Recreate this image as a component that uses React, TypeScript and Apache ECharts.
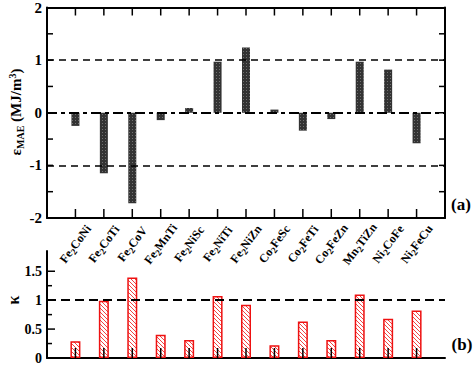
import React, { useEffect, useRef } from 'react';
import * as echarts from 'echarts';

const categories = [
  'Fe2CoNi', 'Fe2CoTi', 'Fe2CoV', 'Fe2MnTi', 'Fe2NiSc', 'Fe2NiTi', 'Fe2NiZn',
  'Co2FeSc', 'Co2FeTi', 'Co2FeZn', 'Mn2TiZn', 'Ni2CoFe', 'Ni2FeCu',
];
const maeValues = [-0.25, -1.15, -1.72, -0.14, 0.09, 0.97, 1.24, 0.06, -0.34, -0.12, 0.97, 0.82, -0.58];
const kappaValues = [0.29, 0.99, 1.39, 0.4, 0.31, 1.07, 0.92, 0.22, 0.63, 0.31, 1.1, 0.68, 0.82];
const topTickLabels = [-2, -1, 0, 1, 2];
const topTicks = [-1.5, -1, -0.5, 0, 0.5, 1, 1.5];
const bottomTickLabels = [0, 0.5, 1, 1.5];
const bottomMajorTicks = [0.5, 1, 1.5];
const bottomMinorTicks = [0.25, 0.75, 1.25];

const FONT = '"Liberation Serif", "Times New Roman", serif';
const slots = ['', ...categories, ''];
const lastSlot = slots.length - 1;

function richName(name: string): string {
  const m = name.match(/^(\D+)(\d)(\D+)$/);
  if (!m) return name ? `{n|${name}}` : '';
  return `{n|${m[1]}}{s|${m[2]}}{n|${m[3]}}`;
}

function hatchCanvas(): HTMLCanvasElement {
  const s = 4;
  const c = document.createElement('canvas');
  c.width = s;
  c.height = s;
  const g = c.getContext('2d')!;
  g.fillStyle = '#fff';
  g.fillRect(0, 0, s, s);
  g.strokeStyle = '#f03030';
  g.lineWidth = 0.9;
  g.beginPath();
  g.moveTo(-1, -1); g.lineTo(s + 1, s + 1);
  g.moveTo(-1, s - 1); g.lineTo(1, s + 1);
  g.moveTo(s - 1, -1); g.lineTo(s + 1, 1);
  g.stroke();
  return c;
}

export default function App() {
  const ref = useRef<HTMLDivElement>(null);
  useEffect(() => {
    if (!ref.current) return;
    const chart = echarts.init(ref.current, undefined, { renderer: 'svg' });
    const lineStyle = { color: '#000', width: 2 };
    const axisLine = { show: true, onZero: false, lineStyle };
    const staticGraphic: any[] = [
      {
        type: 'text', x: 16, y: 112, rotation: Math.PI / 2,
        style: {
          text: '{a|ε}{s|MAE}{a| (MJ/m}{p|3}{a|)}',
          align: 'center', verticalAlign: 'middle',
          rich: {
            a: { fontFamily: FONT, fontWeight: 'bold', fontSize: 15, fill: '#000', verticalAlign: 'middle' },
            s: { fontFamily: FONT, fontWeight: 'bold', fontSize: 10, fill: '#000', padding: [8, 0, 0, 0], verticalAlign: 'middle' },
            p: { fontFamily: FONT, fontWeight: 'bold', fontSize: 10, fill: '#000', padding: [0, 0, 8, 0], verticalAlign: 'middle' },
          },
        },
      },
      {
        type: 'text', x: 13, y: 300, rotation: Math.PI / 2,
        style: { text: 'κ', align: 'center', verticalAlign: 'middle', font: `bold 16px ${FONT}`, fill: '#000' },
      },
      {
        type: 'text', x: 461, y: 204,
        style: { text: '(a)', align: 'center', verticalAlign: 'middle', font: `bold 17px ${FONT}`, fill: '#000' },
      },
      {
        type: 'text', x: 462, y: 344,
        style: { text: '(b)', align: 'center', verticalAlign: 'middle', font: `bold 17px ${FONT}`, fill: '#000' },
      },
    ];
    const option: any = {
      animation: false,
      backgroundColor: '#fff',
      grid: [
        { left: 47, top: 7, width: 398, height: 211 },
        { left: 47, top: 251, width: 398, height: 107 },
      ],
      xAxis: [
        { type: 'category', gridIndex: 0, data: slots, boundaryGap: false, position: 'bottom',
          axisLine, splitLine: { show: false }, axisTick: { show: false }, axisLabel: { show: false } },
        { type: 'category', gridIndex: 0, data: slots, boundaryGap: false, position: 'top',
          axisLine, splitLine: { show: false }, axisTick: { show: false }, axisLabel: { show: false } },
        { type: 'category', gridIndex: 1, data: slots, boundaryGap: false, position: 'bottom',
          axisLine, splitLine: { show: false }, axisTick: { show: false }, axisLabel: { show: false } },
      ],
      yAxis: [
        {
          type: 'value', gridIndex: 0, min: -2, max: 2, interval: 0.5, position: 'left',
          axisLine, splitLine: { show: false }, axisTick: { show: false },
          axisLabel: {
            show: true, margin: 5,
            formatter: (v: number) => (topTickLabels.includes(v) ? String(v) : ''),
            fontFamily: FONT, fontWeight: 'bold', fontSize: 15, color: '#000',
          },
        },
        {
          type: 'value', gridIndex: 0, min: -2, max: 2, interval: 0.5, position: 'right',
          axisLine, splitLine: { show: false }, axisTick: { show: false }, axisLabel: { show: false },
        },
        {
          type: 'value', gridIndex: 1, min: 0, max: 1.85, interval: 0.25, position: 'left',
          axisLine, splitLine: { show: false }, axisTick: { show: false },
          axisLabel: {
            show: true, margin: 5,
            formatter: (v: number) => (bottomTickLabels.includes(v) ? String(v) : ''),
            fontFamily: FONT, fontWeight: 'bold', fontSize: 14, color: '#000',
          },
        },
      ],
      series: [
        {
          type: 'bar', xAxisIndex: 0, yAxisIndex: 0, barWidth: 8,
          data: maeValues.map((v, i) => [i + 1, v]),
          itemStyle: {
            color: '#333',
            decal: {
              symbol: 'rect', symbolSize: 1, dashArrayX: [1, 2], dashArrayY: [1, 2],
              color: 'rgba(255,255,255,0.3)', backgroundColor: '#151515',
            },
          },
          markLine: {
            silent: true, symbol: 'none', label: { show: false },
            data: [
              { yAxis: 1, lineStyle: { type: [7, 5], color: '#000', width: 1.5 } },
              { yAxis: -1, lineStyle: { type: [7, 5], color: '#000', width: 1.5 } },
              { yAxis: 0, lineStyle: { type: [10, 4, 4, 4], color: '#000', width: 2 } },
            ],
          },
          z: 3,
        },
        {
          type: 'bar', xAxisIndex: 2, yAxisIndex: 2, barWidth: 10,
          data: kappaValues.map((v, i) => [i + 1, v]),
          itemStyle: {
            color: { image: hatchCanvas(), repeat: 'repeat', imageWidth: 4, imageHeight: 4 },
            borderColor: '#ee1111', borderWidth: 1.5,
          },
          markLine: {
            silent: true, symbol: 'none', label: { show: false },
            data: [{ yAxis: 1, lineStyle: { type: [9, 5], color: '#000', width: 2 } }],
          },
          z: 3,
        },
      ],
      graphic: staticGraphic,
    };
    chart.setOption(option);

    // ticks and rotated category labels, placed through the axes' own scales
    const top = (x: number, y: number) => chart.convertToPixel({ xAxisIndex: 0, yAxisIndex: 0 }, [x, y]) as number[];
    const bot = (x: number, y: number) => chart.convertToPixel({ xAxisIndex: 2, yAxisIndex: 2 }, [x, y]) as number[];
    const tickStyle = { stroke: '#000', lineWidth: 1.5 };
    const line = (x1: number, y1: number, x2: number, y2: number) => ({
      type: 'line', silent: true, z: 10, shape: { x1, y1, x2, y2 }, style: tickStyle,
    });
    const dyn: any[] = [];
    const xL = top(0, 0)[0];
    const xR = top(lastSlot, 0)[0];
    const yTopEdge = top(0, 2)[1];
    const yBotEdge = top(0, -2)[1];
    const y0b = bot(0, 0)[1];
    categories.forEach((name, i) => {
      const x = top(i + 1, 0)[0];
      dyn.push(line(x, yBotEdge, x, yBotEdge - 9));
      dyn.push(line(x, yTopEdge, x, yTopEdge + 8));
      const xb = bot(i + 1, 0)[0];
      dyn.push(line(xb, y0b, xb, y0b - 10));
      dyn.push({
        type: 'text', x, y: yBotEdge + 26, rotation: (53 * Math.PI) / 180, silent: true,
        style: {
          text: richName(name), align: 'center', verticalAlign: 'middle',
          rich: {
            n: { fontFamily: FONT, fontWeight: 'bold', fontSize: 12, fill: '#000', lineHeight: 15.5, verticalAlign: 'middle' },
            s: { fontFamily: FONT, fontWeight: 'bold', fontSize: 9, fill: '#000', padding: [7, 0, 0, 0], verticalAlign: 'middle' },
          },
        },
      });
    });
    topTicks.forEach((v) => {
      const y = top(0, v)[1];
      dyn.push(line(xL, y, xL + 6, y));
      dyn.push(line(xR, y, xR - 6, y));
    });
    bottomMajorTicks.forEach((v) => {
      const y = bot(0, v)[1];
      dyn.push(line(xL, y, xL + 8, y));
    });
    bottomMinorTicks.forEach((v) => {
      const y = bot(0, v)[1];
      dyn.push(line(xL, y, xL + 5, y));
    });
    chart.setOption({ graphic: [...staticGraphic, ...dyn] });
    return () => chart.dispose();
  }, []);
  return <div ref={ref} style={{ position: 'fixed', left: 0, top: 0, width: 474, height: 365 }} />;
}
